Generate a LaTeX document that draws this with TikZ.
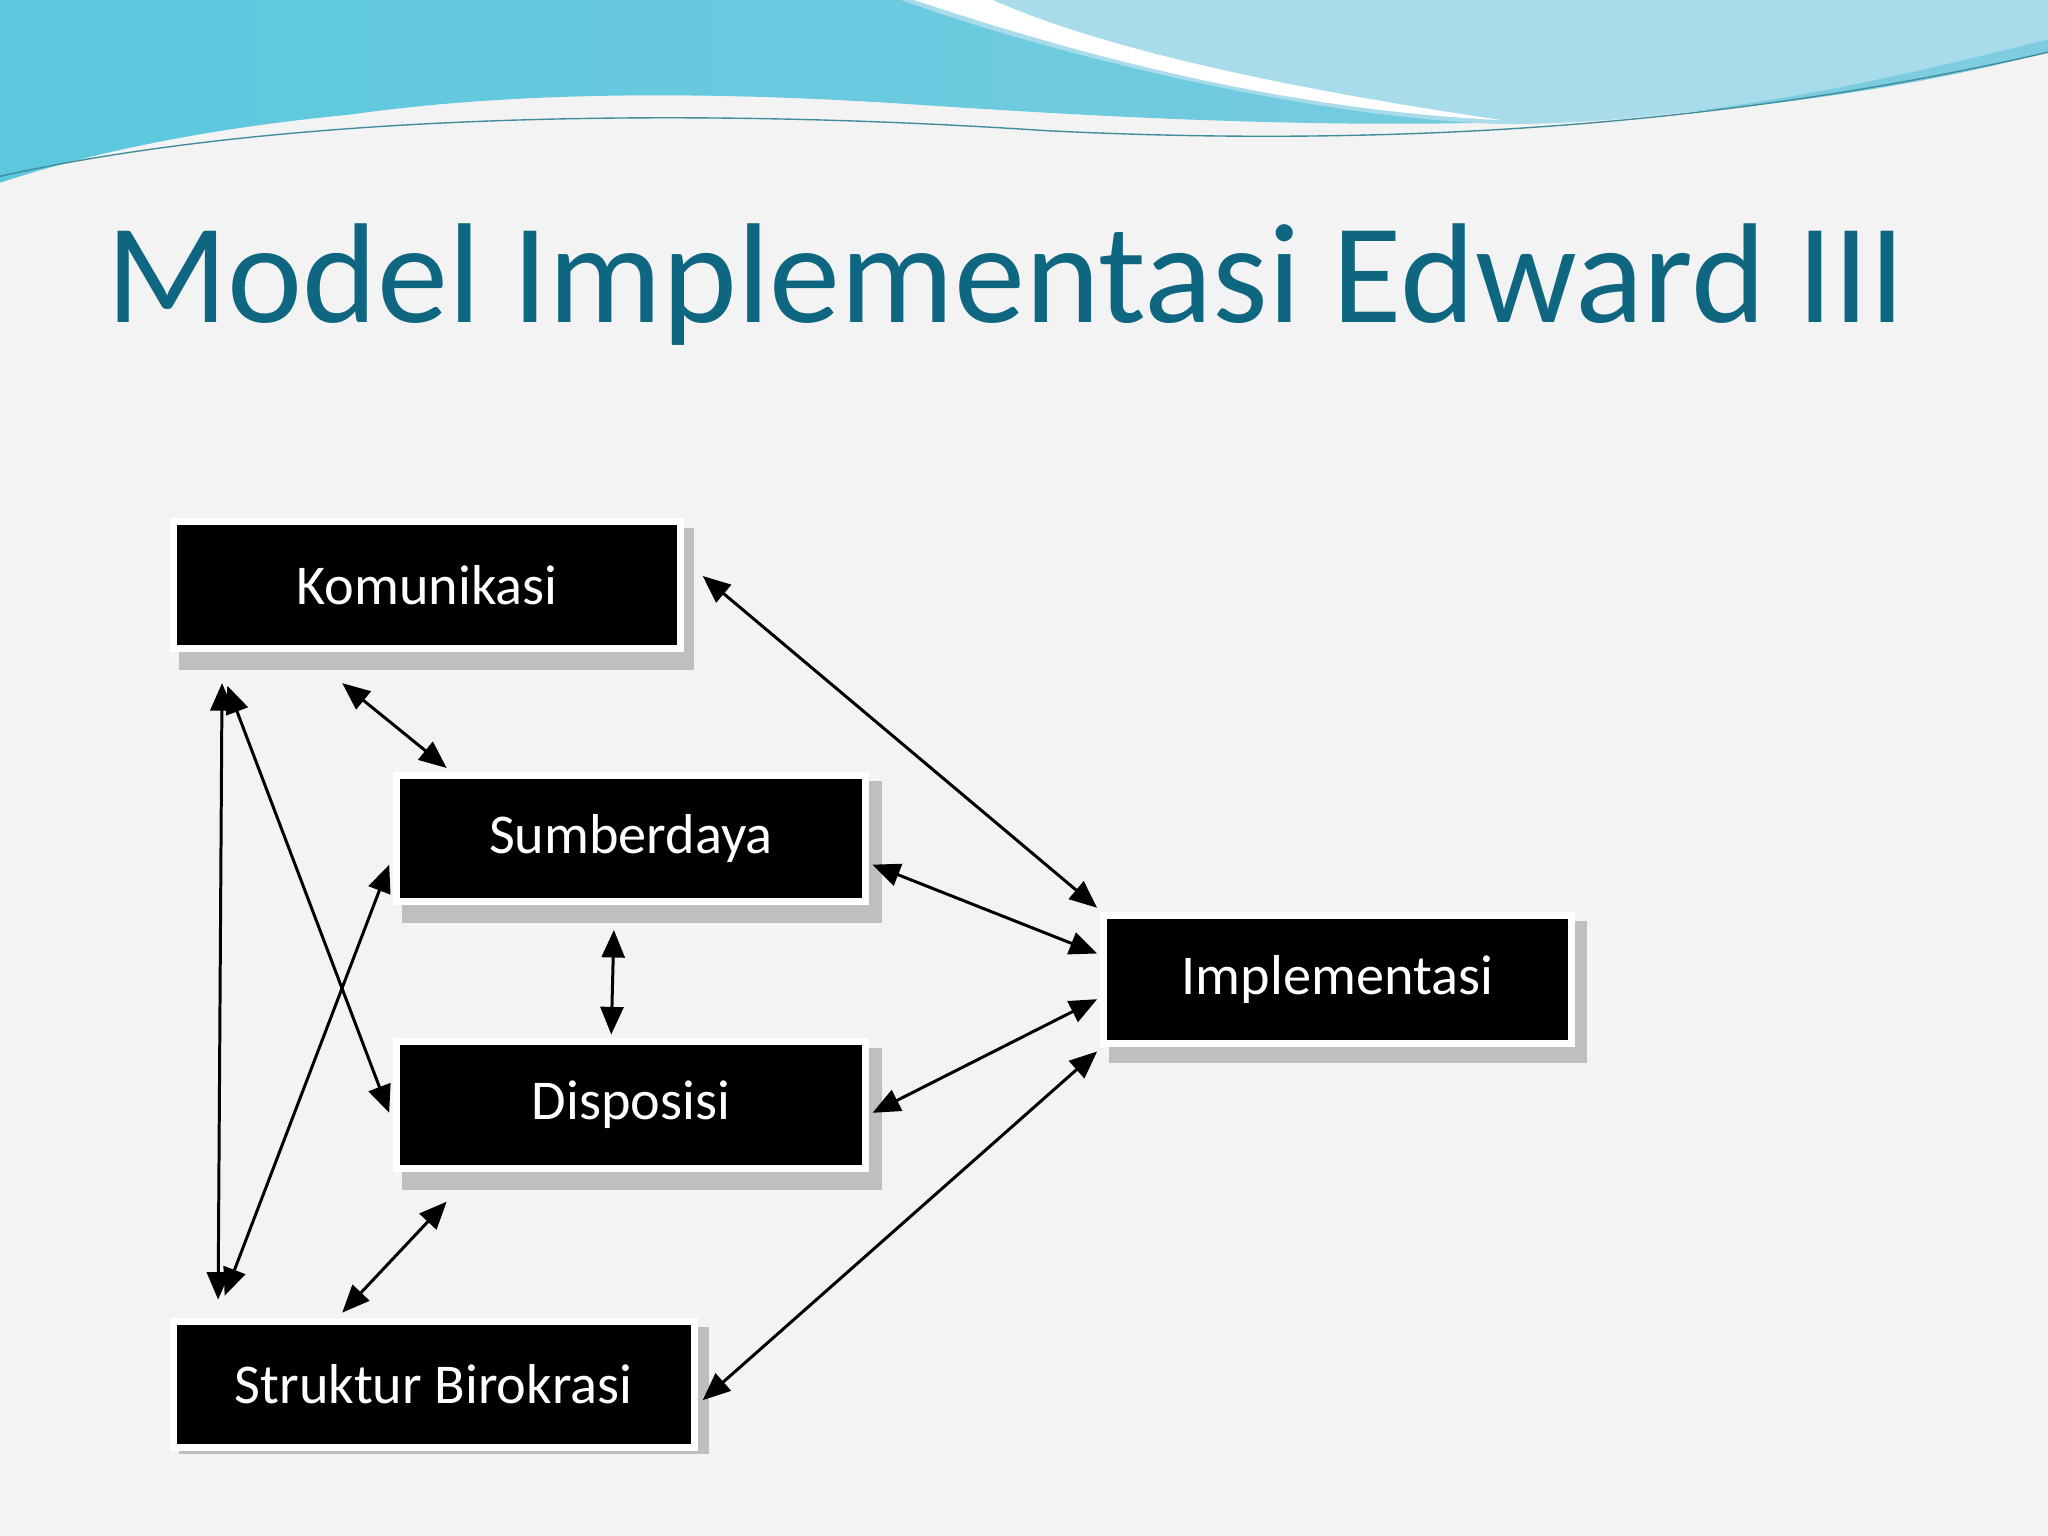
\documentclass[tikz,border=0pt]{standalone}
\usepackage{fontspec}
\setmainfont{Carlito}
\usetikzlibrary{arrows.meta}
\definecolor{bg}{HTML}{F3F3F3}
\definecolor{ttl}{HTML}{0E6680}
\definecolor{wa}{HTML}{7FCCE0}
\definecolor{wb}{HTML}{5BC8DE}
\definecolor{wc}{HTML}{A8DCEB}
\tikzset{
 box/.style={fill=black,draw=white,line width=3pt,text=white,font=\fontsize{24.5}{26}\selectfont,inner sep=0pt},
 shadow/.style={fill=black!25},
 link/.style={line width=1.3pt,{Triangle[length=12pt,width=10pt]}-{Triangle[length=12pt,width=10pt]}}
}
\begin{document}
\begin{tikzpicture}[x=0.02cm,y=-0.02cm]
\fill[bg] (0,0) rectangle (1568,1176);
\useasboundingbox (0,0) rectangle (1568,1176);
% header waves
\shade[left color=wb,right color=wa] (0,0) -- (1568,0) -- (1568,40) .. controls (1300,110) and (1000,100) .. (700,80) .. controls (400,60) and (150,80) .. (0,175) -- cycle;
\fill[wc] (690,0) .. controls (800,40) and (1000,90) .. (1150,95) .. controls (1300,95) and (1450,60) .. (1568,30) -- (1568,0) -- cycle;
\fill[white] (700,0) .. controls (850,50) and (1000,85) .. (1150,92) .. controls (1000,70) and (850,40) .. (760,0) -- cycle;
\fill[bg] (0,140) .. controls (150,90) and (400,60) .. (700,95) .. controls (1000,125) and (1300,120) .. (1568,50) -- (1568,1176) -- (0,1176) -- cycle;
\draw[wb!70!black,line width=0.6pt] (0,135) .. controls (200,90) and (500,80) .. (800,100) .. controls (1100,115) and (1350,90) .. (1568,40);
\node[text=ttl,font=\fontsize{62}{66}\selectfont,anchor=base west] (title) at (75,247) {Model Implementasi Edward III};
% boxes with shadows
\fill[shadow] (137,404) rectangle (531,513);
\node[box,minimum width=7.76cm,minimum height=1.94cm] (k) at (327,448) {Komunikasi};
\fill[shadow] (308,598) rectangle (675,707);
\node[box,minimum width=7.18cm,minimum height=1.94cm] (s) at (483,642) {Sumberdaya};
\fill[shadow] (308,802) rectangle (675,911);
\node[box,minimum width=7.18cm,minimum height=1.94cm] (d) at (483,846) {Disposisi};
\fill[shadow] (849,705) rectangle (1215,814);
\node[box,minimum width=7.18cm,minimum height=1.96cm] (i) at (1024,750) {Implementasi};
\fill[shadow] (137,1016) rectangle (543,1113);
\node[box,minimum width=7.98cm,minimum height=1.94cm] (b) at (332,1060) {Struktur Birokrasi};
% connector endpoints
\coordinate (a1) at (538,441); \coordinate (a2) at (840,695);
\coordinate (b1) at (668,662); \coordinate (b2) at (840,730);
\coordinate (c1) at (668,852); \coordinate (c2) at (840,765);
\coordinate (d1) at (538,1072); \coordinate (d2) at (840,805);
\coordinate (e1) at (262,523); \coordinate (e2) at (342,588);
\coordinate (f1) at (470,712); \coordinate (f2) at (468,792);
\coordinate (g1) at (342,920); \coordinate (g2) at (262,1005);
\coordinate (h1) at (170,523); \coordinate (h2) at (167,995);
\coordinate (j1) at (174,525); \coordinate (j2) at (298,852);
\coordinate (m1) at (298,662); \coordinate (m2) at (172,992);
\foreach \p in {a,b,c,d,e,f,g,h,j,m} \draw[link] (\p1) -- (\p2);
\end{tikzpicture}
\end{document}
